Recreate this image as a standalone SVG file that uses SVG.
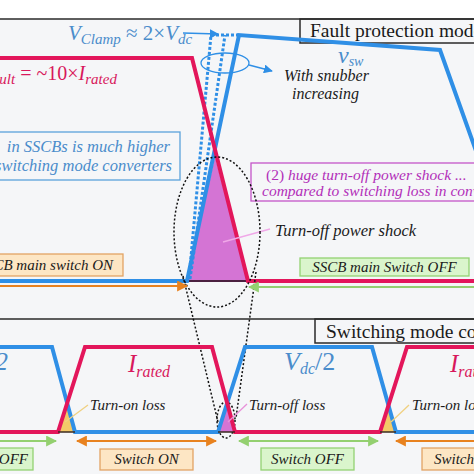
<svg xmlns="http://www.w3.org/2000/svg" width="474" height="474" viewBox="0 0 474 474">
<style>
.ser{font-family:"Liberation Serif","Times New Roman",serif}
.it{font-style:italic}
.blu{fill:#4a8ccb}
.pnk{fill:#d8185c}
.blk{fill:#1a1a1a}
.wblue{fill:none;stroke:#2f8fe6;stroke-width:4;stroke-linejoin:miter}
.wpink{fill:none;stroke:#e3165b;stroke-width:4;stroke-linejoin:miter}
.frame{fill:none;stroke:#2a2a2a;stroke-width:1.5}
.dot{fill:none;stroke:#111;stroke-width:1.5;stroke-dasharray:2 2}
.obox{fill:#fde6c4;stroke:#e2a464;stroke-width:1.3}
.gbox{fill:#daf5cc;stroke:#93d272;stroke-width:1.3}
.oarr{stroke:#e8821f;stroke-width:2.2;fill:none}
.garr{stroke:#94d070;stroke-width:2.2;fill:none}
</style>
<defs>
<marker id="ah-o" viewBox="0 0 10 10" refX="9" refY="5" markerWidth="5" markerHeight="5" orient="auto-start-reverse"><path d="M0,0 L10,5 L0,10 z" fill="#e8821f"/></marker>
<marker id="ah-g" viewBox="0 0 10 10" refX="9" refY="5" markerWidth="5" markerHeight="5" orient="auto-start-reverse"><path d="M0,0 L10,5 L0,10 z" fill="#94d070"/></marker>
<marker id="ah-b" viewBox="0 0 10 10" refX="9" refY="5" markerWidth="6" markerHeight="6" orient="auto"><path d="M0,0 L10,5 L0,10 z" fill="#2f8fe6"/></marker>
</defs>
<rect x="0" y="0" width="474" height="474" fill="#ffffff"/>
<rect x="0" y="19" width="474" height="455" fill="#f5f6f8"/>
<line x1="0" y1="19" x2="474" y2="19" class="frame"/>
<line x1="0" y1="319" x2="474" y2="319" class="frame"/>

<g id="fault-title">
<rect x="300" y="19" width="180" height="24" class="frame"/>
<text x="310" y="37" class="ser blk" font-size="19.5">Fault protection mode</text>
</g>

<g id="fault-waves">
<polygon points="187,281 215,157 248,281" fill="#d474d4"/>
<line x1="187" y1="281" x2="248" y2="281" stroke="#4a2040" stroke-width="2"/>
<line x1="189" y1="279" x2="211" y2="35" stroke="#2f8fe6" stroke-width="3" stroke-dasharray="3 2"/>
<line x1="190" y1="279" x2="225" y2="35" stroke="#2f8fe6" stroke-width="3" stroke-dasharray="3 2"/>
<line x1="211" y1="35" x2="238" y2="35" stroke="#2f8fe6" stroke-width="3" stroke-dasharray="3 2"/>
<polyline points="-2,281 187,281 239,35 440,50 480,162" class="wblue"/>
<polyline points="-2,58 192,58 248,281 476,281" class="wpink"/>
</g>

<g id="vclamp-label">
<text y="40" class="ser it blu" font-size="21"><tspan x="68">V</tspan><tspan font-size="15" dy="4">Clamp</tspan><tspan dy="-4" font-style="normal"> ≈ 2×</tspan><tspan>V</tspan><tspan font-size="15" dy="4">dc</tspan></text>
<line x1="183" y1="33" x2="218" y2="34" stroke="#2f8fe6" stroke-width="1.5" marker-end="url(#ah-b)"/>
</g>

<g id="snubber">
<ellipse cx="225" cy="63" rx="24" ry="10" fill="none" stroke="#2f8fe6" stroke-width="1.3"/>
<line x1="249" y1="65" x2="272" y2="71" stroke="#2f8fe6" stroke-width="1.5" marker-end="url(#ah-b)"/>
<text x="284" y="81" class="ser it blk" font-size="16">With snubber</text>
<text x="292" y="99" class="ser it blk" font-size="16">increasing</text>
</g>

<g id="vsw-label">
<text y="63" class="ser it blu" font-size="24"><tspan x="338">v</tspan><tspan font-size="14" dy="3">sw</tspan></text>
</g>

<g id="ifault-label">
<text y="80" class="ser it pnk" font-size="20"><tspan x="-19">I</tspan><tspan font-size="15" dy="4">fault</tspan><tspan dy="-4" font-style="normal"> = ~10×</tspan><tspan>I</tspan><tspan font-size="15" dy="4">rated</tspan></text>
</g>

<g id="note1">
<rect x="-5" y="132" width="185" height="48" fill="none" stroke="#5aa2da" stroke-width="1.3"/>
<text x="170" y="152" class="ser it blu" font-size="16.5" text-anchor="end">in SSCBs is much higher</text>
<text x="172" y="171" class="ser it blu" font-size="16.5" text-anchor="end">switching mode converters</text>
</g>

<g id="note2">
<rect x="251" y="163" width="230" height="38" fill="none" stroke="#c455c8" stroke-width="1.3"/>
<text x="266" y="180" class="ser it" fill="#b22fb8" font-size="15.5"><tspan font-style="normal">(2)</tspan> huge turn-off power shock ...</text>
<text x="262" y="196" class="ser it" fill="#b22fb8" font-size="15.5">compared to switching loss in converters</text>
</g>

<g id="shock-label">
<line x1="223" y1="242" x2="270" y2="229" stroke="#f0a8e8" stroke-width="1.3"/>
<text x="275" y="236" class="ser it blk" font-size="16.5">Turn-off power shock</text>
</g>

<g id="zoom-ellipses">
<ellipse cx="217" cy="232" rx="43" ry="75" class="dot"/>
<line x1="183" y1="276" x2="218" y2="422" class="dot"/>
<line x1="256" y1="272" x2="236" y2="418" class="dot"/>
<ellipse cx="226" cy="420" rx="9" ry="18" class="dot"/>
</g>

<g id="sscb-on">
<rect x="-5" y="254" width="128" height="22" class="obox"/>
<text x="113" y="270" class="ser it blk" font-size="15" text-anchor="end">SSCB main switch ON</text>
</g>
<g id="sscb-off">
<rect x="300" y="258" width="169" height="18" class="gbox"/>
<text x="384.5" y="272" class="ser it blk" font-size="15" text-anchor="middle">SSCB main Switch OFF</text>
</g>

<g id="connectors">
<line x1="0" y1="286" x2="187" y2="286" class="oarr" marker-end="url(#ah-o)"/>
<line x1="476" y1="287" x2="249" y2="287" class="garr" marker-end="url(#ah-g)"/>
<line x1="0" y1="441" x2="56" y2="441" class="garr" marker-end="url(#ah-g)"/>
<line x1="77" y1="441" x2="216" y2="441" class="oarr" marker-start="url(#ah-o)" marker-end="url(#ah-o)"/>
<line x1="239" y1="441" x2="378" y2="441" class="garr" marker-start="url(#ah-g)" marker-end="url(#ah-g)"/>
<line x1="396" y1="441" x2="478" y2="441" class="oarr" marker-start="url(#ah-o)"/>
</g>

<g id="switch-title">
<rect x="315" y="319" width="170" height="24" class="frame"/>
<text x="326" y="338" class="ser blk" font-size="19.5">Switching mode converters</text>
</g>

<g id="switch-waves">
<polygon points="58,432 67,403 75,432" fill="#f3c968"/>
<polygon points="380,432 388.5,405 396,432" fill="#f3c968"/>
<polygon points="218,432 227,403 235,432" fill="#d474d4"/>
<polyline points="-2,347 52,347 75,432 218,432 245,347 372,347 396,432 476,432" class="wblue"/>
<polyline points="-2,432 58,432 85,347 212,347 235,432 380,432 407,347 476,347" class="wpink"/>
<line x1="58" y1="432" x2="75" y2="432" stroke="#3a2a20" stroke-width="1.5"/>
<line x1="380" y1="432" x2="396" y2="432" stroke="#3a2a20" stroke-width="1.5"/>
<line x1="218" y1="432" x2="235" y2="432" stroke="#3a2a20" stroke-width="1.5"/>
</g>

<g id="switch-labels">
<text y="370" class="ser it blu" font-size="26" text-anchor="end"><tspan x="8">/2</tspan></text>
<text y="370" class="ser it blu" font-size="26"><tspan x="284">V</tspan><tspan font-size="16" dy="4">dc</tspan><tspan dy="-4" font-style="normal">/2</tspan></text>
<text y="372" class="ser it pnk" font-size="25"><tspan x="128">I</tspan><tspan font-size="16" dy="5">rated</tspan></text>
<text y="372" class="ser it pnk" font-size="25"><tspan x="450">I</tspan><tspan font-size="16" dy="5">rated</tspan></text>
</g>

<g id="loss-labels">
<line x1="65" y1="422" x2="88" y2="405" stroke="#f0d080" stroke-width="1.3"/>
<text x="90" y="410" class="ser it blk" font-size="15">Turn-on loss</text>
<line x1="228" y1="422" x2="247" y2="404" stroke="#e890d8" stroke-width="1.3"/>
<text x="249" y="410" class="ser it blk" font-size="15">Turn-off loss</text>
<line x1="391" y1="422" x2="409" y2="405" stroke="#f0d080" stroke-width="1.3"/>
<text x="412" y="410" class="ser it blk" font-size="15">Turn-on loss</text>
</g>

<g id="switch-boxes">
<rect x="-5" y="448" width="38" height="22" class="gbox"/>
<text x="28" y="464" class="ser it blk" font-size="15" text-anchor="end">Switch OFF</text>
<rect x="100" y="449" width="93" height="21" class="obox"/>
<text x="146.5" y="464" class="ser it blk" font-size="15" text-anchor="middle">Switch ON</text>
<rect x="261" y="448" width="93" height="22" class="gbox"/>
<text x="307.5" y="464" class="ser it blk" font-size="15" text-anchor="middle">Switch OFF</text>
<rect x="422" y="448" width="60" height="22" class="obox"/>
<text x="434" y="464" class="ser it blk" font-size="15">Switch ON</text>
</g>
</svg>
